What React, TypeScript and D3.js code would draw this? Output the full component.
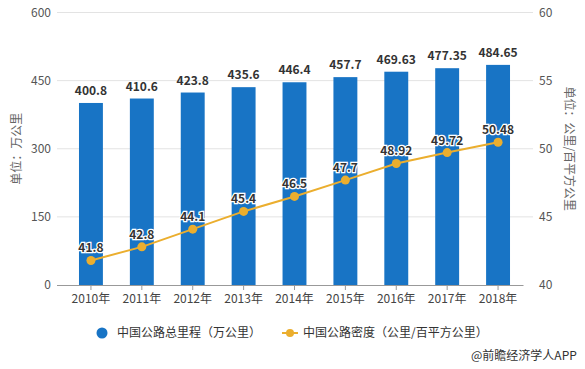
import React from "react";
import * as d3 from "d3";

const categories = ["2010年", "2011年", "2012年", "2013年", "2014年", "2015年", "2016年", "2017年", "2018年"];
const mileage = [400.8, 410.6, 423.8, 435.6, 446.4, 457.7, 469.63, 477.35, 484.65];
const density = [41.8, 42.8, 44.1, 45.4, 46.5, 47.7, 48.92, 49.72, 50.48];
const leftTicks = [0, 150, 300, 450, 600];
const rightTicks = [40, 45, 50, 55, 60];
const seriesNames = ["中国公路总里程（万公里）", "中国公路密度（公里/百平方公里）"];

const W = 585, H = 369;
const gridL = 57, gridR = 533;
const plotL = 65.5, plotR = 523.5;
const top = 12.5, bottom = 285;
const barColor = "#1874C5";
const lineColor = "#EBAE2E";
const font = "'Microsoft YaHei', 'Noto Sans CJK SC', sans-serif";

export default function App() {
  const x = d3.scaleBand<string>().domain(categories).range([plotL, plotR]).paddingInner(0.53).paddingOuter(0.265);
  const yL = d3.scaleLinear().domain([0, 600]).range([bottom, top]);
  const yR = d3.scaleLinear().domain([40, 60]).range([bottom, top]);
  const cx = (c: string) => (x(c) as number) + x.bandwidth() / 2;
  const line = d3.line<number>().x((_, i) => cx(categories[i])).y((d) => yR(d));

  return (
    <svg width={W} height={H} style={{ position: "absolute", left: 0, top: 0, fontFamily: font }}>
      <rect width={W} height={H} fill="#fff" />
      {leftTicks.map((t) => (
        <g key={t}>
          {t !== 0 && <line x1={gridL} x2={gridR} y1={yL(t)} y2={yL(t)} stroke="#E3E3E3" strokeWidth={1} />}
          <text x={51} y={yL(t)} dy="0.35em" textAnchor="end" fontSize={12} fill="#555">{t}</text>
        </g>
      ))}
      {rightTicks.map((t) => (
        <text key={t} x={539} y={yR(t)} dy="0.35em" textAnchor="start" fontSize={12} fill="#555">{t}</text>
      ))}
      <text transform={`translate(17,${(top + bottom) / 2}) rotate(-90)`} textAnchor="middle" dy="0.35em" fontSize={12} fill="#666">单位：万公里</text>
      <text transform={`translate(569,${(top + bottom) / 2}) rotate(90)`} textAnchor="middle" dy="0.35em" fontSize={12} fill="#666">单位：公里/百平方公里</text>

      {categories.map((c, i) => (
        <g key={c}>
          <rect x={x(c)} y={yL(mileage[i])} width={x.bandwidth()} height={bottom - yL(mileage[i])} fill={barColor} />
          <text x={cx(c)} y={yL(mileage[i]) - 8} textAnchor="middle" fontSize={12} fontWeight="bold" fill="#333">{mileage[i]}</text>
        </g>
      ))}
      <line x1={gridL} x2={plotR} y1={bottom + 0.5} y2={bottom + 0.5} stroke="#999" />
      {categories.map((c) => (
        <g key={"t" + c}>
          <line x1={cx(c)} x2={cx(c)} y1={bottom} y2={bottom + 5} stroke="#999" />
          <text x={cx(c)} y={bottom + 14} dy="0.35em" textAnchor="middle" fontSize={12} fill="#444">{c}</text>
        </g>
      ))}

      <path d={line(density) || ""} fill="none" stroke={lineColor} strokeWidth={2} />
      {density.map((d, i) => (
        <g key={"p" + i}>
          <circle cx={cx(categories[i])} cy={yR(d)} r={4.5} fill={lineColor} />
          <text x={cx(categories[i])} y={yR(d) - 8} textAnchor="middle" fontSize={12} fontWeight="bold" fill="#333" stroke="#fff" strokeWidth={2.5} paintOrder="stroke">{d}</text>
        </g>
      ))}

      <circle cx={102} cy={333} r={5.5} fill={barColor} />
      <text x={117} y={333} dy="0.35em" fontSize={12} fill="#333">{seriesNames[0]}</text>
      <line x1={282} x2={298} y1={333} y2={333} stroke={lineColor} strokeWidth={2} />
      <circle cx={290} cy={333} r={4} fill={lineColor} />
      <text x={303} y={333} dy="0.35em" fontSize={12} fill="#333">{seriesNames[1]}</text>

      <text x={471} y={356} dy="0.35em" fontSize={12} fill="#333">@前瞻经济学人APP</text>
    </svg>
  );
}
